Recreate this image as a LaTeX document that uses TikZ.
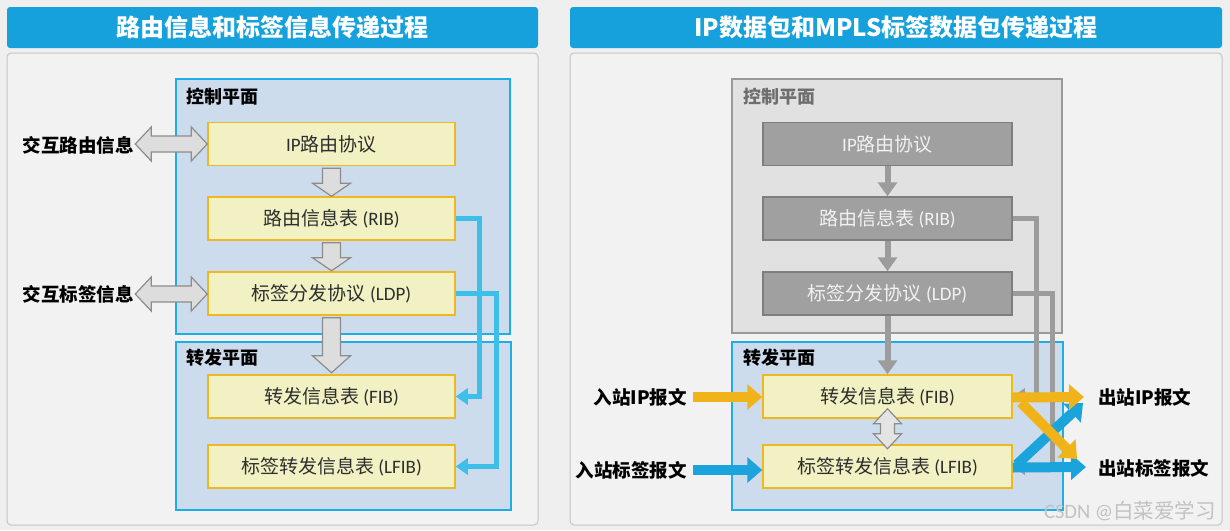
\documentclass[tikz,border=0pt]{standalone}
\usepackage{fontspec}
\setmainfont{Carlito}
\newfontfamily\cjk{Noto Sans CJK SC}
\newcommand\zhs[1]{{\cjk #1}}
\usetikzlibrary{arrows.meta,calc}
\definecolor{bgc}{HTML}{EFEFEF}
\definecolor{panelfill}{HTML}{F2F2F2}
\definecolor{panelborder}{HTML}{C4C4C4}
\definecolor{titleblue}{HTML}{17A1DC}
\definecolor{planefill}{HTML}{CDDCEC}
\definecolor{planeborder}{HTML}{1EAEE6}
\definecolor{boxfill}{HTML}{F1F1C4}
\definecolor{boxborder}{HTML}{F0B820}
\definecolor{textdark}{HTML}{2E2E2E}
\definecolor{gplanefill}{HTML}{E1E1E1}
\definecolor{gplaneborder}{HTML}{999999}
\definecolor{gboxfill}{HTML}{A0A0A0}
\definecolor{gboxborder}{HTML}{7E7E7E}
\definecolor{gtext}{HTML}{F2F2F2}
\definecolor{glabel}{HTML}{6E6E6E}
\definecolor{garrowc}{HTML}{9C9C9C}
\definecolor{hfill}{HTML}{DDDDDD}
\definecolor{hborder}{HTML}{8C8C8C}
\definecolor{bluel}{HTML}{3EBFEA}
\definecolor{ylw}{HTML}{F0B41A}
\definecolor{blu}{HTML}{1BA3DC}
\definecolor{wmark}{HTML}{C2C2C2}
\begin{document}
\begin{tikzpicture}[x=1pt,y=-1pt,
  titlebar/.style={fill=titleblue, rounded corners=3pt, inner sep=0pt, text=white,
    font=\cjk\bfseries\fontsize{24}{26}\selectfont},
  panel/.style={fill=panelfill, draw=panelborder, line width=1pt, rounded corners=4pt, inner sep=0pt},
  plane/.style={fill=planefill, draw=planeborder, line width=1.3pt, inner sep=0pt},
  gplane/.style={fill=gplanefill, draw=gplaneborder, line width=1.3pt, inner sep=0pt},
  planelabel/.style={anchor=west, inner sep=0pt, font=\cjk\bfseries\fontsize{18}{20}\selectfont},
  box/.style={fill=boxfill, draw=boxborder, line width=1.5pt, minimum width=247pt,
    minimum height=43pt, inner sep=0pt, text=textdark, font=\fontsize{19}{21}\selectfont},
  gbox/.style={box, fill=gboxfill, draw=gboxborder, text=gtext},
  sidelabel/.style={inner sep=0pt, font=\cjk\bfseries\fontsize{18.5}{20}\selectfont},
  hollow/.style={fill=hfill, draw=hborder, line width=1.2pt, line join=miter},
  bline/.style={draw=bluel, line width=5pt, -{Triangle[length=12pt,width=16pt]}},
  gline/.style={draw=garrowc, line width=5pt, -{Triangle[length=12pt,width=16pt]}},
  garrow/.style={draw=garrowc, line width=6pt, -{Triangle[length=14pt,width=19pt]}},
  yarrow/.style={draw=ylw, line width=10pt, -{Triangle[length=15pt,width=25pt]}},
  barrow/.style={draw=blu, line width=10pt, -{Triangle[length=15pt,width=25pt]}}
]
\fill[bgc] (0,0) rectangle (1230,530);
\useasboundingbox (0,0) rectangle (1230,530);

% ---------- left half ----------
\node[titlebar, minimum width=531pt, minimum height=41pt] (t1) at (272.5,27.5) {路由信息和标签信息传递过程};
\node[panel, minimum width=531pt, minimum height=472pt] (p1) at (272.5,289) {};
\node[plane, minimum width=334pt, minimum height=255pt] (cp1) at (343,206.5) {};
\node[plane, minimum width=335pt, minimum height=168pt] (fp1) at (343.5,426) {};
\node[planelabel] (cpl1) at (186,97) {控制平面};
\node[planelabel] (fpl1) at (186,358) {转发平面};

\node[box] (ip) at (331.5,144) {IP\zhs{路由协议}};
\node[box] (rib) at (331.5,218.5) {\zhs{路由信息表} (RIB)};
\node[box] (ldp) at (331.5,293.5) {\zhs{标签分发协议} (LDP)};
\node[box] (fib) at (331.5,396.5) {\zhs{转发信息表} (FIB)};
\node[box] (lfib) at (331.5,466.5) {\zhs{标签转发信息表} (LFIB)};

\node[sidelabel, anchor=east] (lab1) at (134,145) {交互路由信息};
\node[sidelabel, anchor=east] (lab2) at (134,294) {交互标签信息};

% hollow arrows
\draw[hollow] ($(ip.south)+(-9,2)$) -- ++(0,15) -- ++(-10,0) -- ++(19,13) -- ++(19,-13) -- ++(-10,0) -- ++(0,-15) -- cycle;
\draw[hollow] ($(rib.south)+(-9,2)$) -- ++(0,15) -- ++(-10,0) -- ++(19,13) -- ++(19,-13) -- ++(-10,0) -- ++(0,-15) -- cycle;
\draw[hollow] ($(ldp.south)+(-9,2)$) -- ++(0,38) -- ++(-10,0) -- ++(19,17) -- ++(19,-17) -- ++(-10,0) -- ++(0,-38) -- cycle;
\draw[hollow] (ip.west) -- ++(-16,-17) -- ++(0,9) -- ++(-40,0) -- ++(0,-9) -- ++(-16,17) -- ++(16,17) -- ++(0,-9) -- ++(40,0) -- ++(0,9) -- cycle;
\draw[hollow] ($(ldp.west)+(0,0.5)$) -- ++(-16,-17) -- ++(0,9) -- ++(-40,0) -- ++(0,-9) -- ++(-16,17) -- ++(16,17) -- ++(0,-9) -- ++(40,0) -- ++(0,9) -- cycle;

% blue connectors
\draw[bline] (rib.east) -- ++(24,0) |- (fib.east);
\draw[bline] (ldp.east) -- ++(41,0) |- (lfib.east);

% ---------- right half ----------
\node[titlebar, minimum width=652pt, minimum height=41pt] (t2) at (896,27.5) {IP数据包和MPLS标签数据包传递过程};
\node[panel, minimum width=652pt, minimum height=472pt] (p2) at (896,289) {};
\node[gplane, minimum width=330pt, minimum height=254pt] (cp2) at (897,206) {};
\node[plane, minimum width=331pt, minimum height=168pt] (fp2) at (897.5,426) {};
\node[planelabel, text=glabel] (cpl2) at (743,97) {控制平面};
\node[planelabel] (fpl2) at (743,358) {转发平面};

\node[gbox, minimum width=249pt] (ip2) at (887.5,144) {IP\zhs{路由协议}};
\node[gbox, minimum width=249pt] (rib2) at (887.5,218.5) {\zhs{路由信息表} (RIB)};
\node[gbox, minimum width=249pt] (ldp2) at (887.5,293.5) {\zhs{标签分发协议} (LDP)};
\node[box, minimum width=249pt] (fib2) at (887.5,396.5) {\zhs{转发信息表} (FIB)};
\node[box, minimum width=249pt] (lfib2) at (887.5,466.5) {\zhs{标签转发信息表} (LFIB)};

\draw[garrow] (ip2) -- (rib2);
\draw[garrow] (rib2) -- (ldp2);
\draw[garrow] (ldp2) -- (fib2);
\draw[gline] (rib2.east) -- ++(24,0) |- (fib2.east);
\draw[gline] (ldp2.east) -- ++(40,0) |- (lfib2.east);

\draw[hollow, fill=hfill!80!white] ($(fib2.south)+(0,-10)$) -- ++(14,15) -- ++(-7,0) -- ++(0,10) -- ++(7,0) -- ++(-14,15) -- ++(-14,-15) -- ++(7,0) -- ++(0,-10) -- ++(-7,0) -- cycle;

\node[sidelabel, anchor=east] (in1) at (687,397) {入站IP报文};
\node[sidelabel, anchor=east] (in2) at (687,470) {入站标签报文};
\node[sidelabel, anchor=west] (out1) at (1098,397) {出站IP报文};
\node[sidelabel, anchor=west] (out2) at (1098,468) {出站标签报文};

\coordinate (ins1) at (693,397);
\coordinate (ins2) at (693,470);
\coordinate (oute1) at (1084,397);
\coordinate (oute2) at (1086,467);
\coordinate (ydiag) at (1077,459);
\coordinate (bdiag) at (1083,403);

\draw[yarrow] (ins1) -- (ins1 -| fib2.west);
\draw[barrow] (ins2) -- (ins2 -| lfib2.west);
\draw[barrow] ($(lfib2.east)+(0,1)$) -- (oute2);
\draw[barrow] ($(lfib2.east)+(4,-2)$) -- (bdiag);
\draw[yarrow] ($(fib2.east)+(0,1)$) -- (oute1);
\draw[yarrow] ($(fib2.east)+(8,6)$) -- (ydiag);

\node[anchor=east, inner sep=0pt, text=wmark, font=\fontsize{20.5}{22}\selectfont] (wm) at (1216,511) {CSDN @\zhs{白菜爱学习}};
\end{tikzpicture}
\end{document}
